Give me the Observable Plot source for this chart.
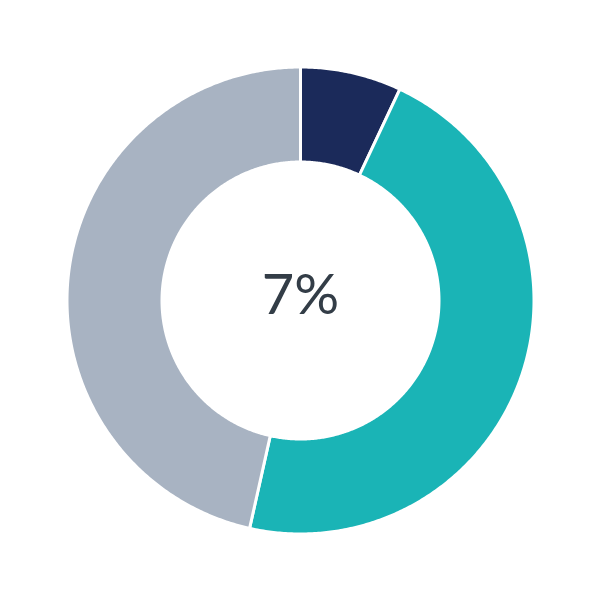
<!DOCTYPE html>
<html>
<head>
<meta charset="utf-8">
<script src="https://cdn.jsdelivr.net/npm/d3@7"></script>
<script src="https://cdn.jsdelivr.net/npm/@observablehq/plot@0.6"></script>
<style>
  html, body { margin: 0; padding: 0; background: #fff; }
</style>
</head>
<body>
<div id="chart"></div>
<script>
const categories = ["A", "B", "C"];
const values = [7, 46.5, 46.5];
const colors = ["#1b2a5a", "#1ab4b6", "#a8b3c2"];
const centerLabel = "7%";

const outerR = 233.5, innerR = 138.5;
const total = d3.sum(values);
const points = [];
let acc = 0;
categories.forEach((c, i) => {
  const a0 = acc / total * 2 * Math.PI;
  acc += values[i];
  const a1 = acc / total * 2 * Math.PI;
  const n = Math.max(4, Math.ceil((a1 - a0) / (Math.PI / 360)));
  const ring = [];
  for (let k = 0; k <= n; k++) {
    const a = a0 + (a1 - a0) * k / n;
    ring.push({cat: c, x: outerR * Math.sin(a), y: outerR * Math.cos(a)});
  }
  for (let k = n; k >= 0; k--) {
    const a = a0 + (a1 - a0) * k / n;
    ring.push({cat: c, x: innerR * Math.sin(a), y: innerR * Math.cos(a)});
  }
  ring.push(ring[0]);
  points.push(...ring);
});

const chart = Plot.plot({
  width: 600,
  height: 600,
  margin: 0,
  x: {domain: [-300, 300], axis: null},
  y: {domain: [-300, 300], axis: null},
  color: {domain: categories, range: colors},
  marks: [
    Plot.line(points, {x: "x", y: "y", z: "cat", fill: "cat", stroke: "white", strokeWidth: 3, curve: "linear"}),
    Plot.text([centerLabel], {x: () => 0, y: () => 0, text: d => d, fontSize: 56, fill: "#333d47", fontFamily: "Lato", fontWeight: 400, textAnchor: "middle", dy: -4})
  ]
});
document.getElementById("chart").appendChild(chart);
</script>
</body>
</html>
